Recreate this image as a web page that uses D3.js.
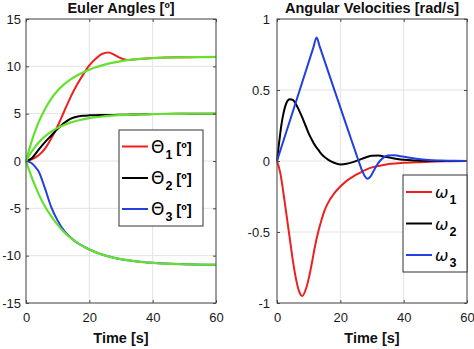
<!DOCTYPE html>
<html>
<head>
<meta charset="utf-8">
<script src="https://cdn.jsdelivr.net/npm/d3@7"></script>
<style>
  body { margin: 0; background: #fff; }
  svg { display: block; font-family: "Liberation Sans", Arial, sans-serif; }
</style>
</head>
<body>
<svg id="chart" width="474" height="349"></svg>
<script>
// ---- data ----
// left panel: Euler angles [deg]
const tEuler = [0, 1, 2, 3, 4, 6, 8, 10, 12, 14, 16, 18, 20, 22, 24, 26, 28, 30, 32, 34, 36, 38, 40, 44, 48, 52, 56, 60];
const theta1 = [0, 0.08, 0.2, 0.38, 0.6, 1.3, 2.4, 3.7, 5.2, 6.7, 8.0, 9.1, 10.1, 10.8, 11.3, 11.45, 11.2, 10.85, 10.66, 10.72, 10.78, 10.83, 10.87, 10.92, 10.95, 10.97, 10.98, 10.99];
const theta2 = [0, 0.12, 0.35, 0.75, 1.2, 2.0, 2.7, 3.4, 4.0, 4.45, 4.68, 4.78, 4.82, 4.84, 4.85, 4.86, 4.87, 4.88, 4.89, 4.91, 4.93, 4.94, 4.96, 4.97, 4.98, 4.99, 4.99, 5.0];
const theta3 = [0, -0.1, -0.3, -0.65, -1.1, -2.9, -4.9, -6.3, -7.35, -8.05, -8.6, -9.0, -9.35, -9.63, -9.88, -10.07, -10.24, -10.37, -10.48, -10.57, -10.65, -10.71, -10.76, -10.84, -10.89, -10.92, -10.95, -10.96];
// reference trajectories (green)
const ref1 = [0, 1.2, 2.3, 3.25, 4.1, 5.5, 6.6, 7.45, 8.1, 8.6, 9.0, 9.35, 9.65, 9.9, 10.1, 10.28, 10.42, 10.55, 10.65, 10.72, 10.78, 10.83, 10.87, 10.92, 10.95, 10.97, 10.98, 10.99];
const ref2 = [0, 0.6, 1.1, 1.55, 1.95, 2.6, 3.1, 3.5, 3.8, 4.05, 4.25, 4.4, 4.53, 4.62, 4.7, 4.77, 4.82, 4.85, 4.88, 4.91, 4.93, 4.94, 4.96, 4.97, 4.98, 4.99, 4.99, 5.0];
const ref3 = [0, -1.0, -1.9, -2.7, -3.5, -4.8, -5.85, -6.75, -7.5, -8.1, -8.6, -9.0, -9.35, -9.65, -9.88, -10.07, -10.24, -10.37, -10.48, -10.57, -10.65, -10.71, -10.76, -10.84, -10.89, -10.92, -10.95, -10.96];

// right panel: angular velocities [rad/s]
const tW1 = [0, 1, 2, 3, 4, 5, 6, 7, 8, 9, 10, 11, 12, 13, 14, 15, 16, 18, 20, 22, 24, 26, 28, 30, 32, 34, 36, 40, 45, 50, 55, 60];
const omega1 = [0, -0.08, -0.22, -0.38, -0.54, -0.7, -0.83, -0.92, -0.95, -0.91, -0.83, -0.72, -0.6, -0.5, -0.42, -0.35, -0.3, -0.23, -0.18, -0.14, -0.11, -0.085, -0.062, -0.045, -0.035, -0.027, -0.02, -0.013, -0.008, -0.004, -0.002, 0];
const tW2 = [0, 0.5, 1, 1.5, 2, 3, 4, 5, 6, 7, 8, 9, 10, 11, 12, 13, 14, 15, 16, 18, 20, 22, 24, 26, 28, 30, 32, 34, 36, 38, 40, 44, 48, 52, 60];
const omega2 = [0, 0.1, 0.19, 0.27, 0.33, 0.41, 0.435, 0.43, 0.4, 0.355, 0.305, 0.25, 0.195, 0.15, 0.11, 0.08, 0.05, 0.028, 0.012, -0.012, -0.024, -0.02, -0.008, 0.008, 0.025, 0.037, 0.038, 0.03, 0.022, 0.014, 0.008, 0.003, 0.001, 0, 0];
const tW3 = [0, 1, 11.5, 12.5, 13.5, 23, 24, 25, 26, 27, 28, 28.5, 29.5, 30.5, 31.5, 32.5, 33.5, 35, 37, 40, 44, 48, 52, 56, 60];
const omega3 = [0, 0.07, 0.8, 0.87, 0.805, 0.18, 0.115, 0.05, -0.015, -0.075, -0.115, -0.125, -0.11, -0.07, -0.03, 0.0, 0.022, 0.038, 0.04, 0.03, 0.016, 0.007, 0.003, 0.001, 0];

// tick values
const xTicks = [0, 20, 40, 60];
const eulerTicks = [-15, -10, -5, 0, 5, 10, 15];
const omegaTicks = [-1, -0.5, 0, 0.5, 1];

const RED = "#ee1f1f", BLACK = "#000000", BLUE = "#2240e0", GREEN = "#64e02e";
const AXIS = "#4a4a4a", GRID = "#e3e3e3";

const svg = d3.select("#chart");

function zip(t, v) { return t.map((d, i) => [d, v[i]]); }

// draws one MATLAB-like axes box
function drawPanel(p) {
    const x = d3.scaleLinear().domain([0, 60]).range([p.x0, p.x1]);
    const y = d3.scaleLinear().domain(p.yDomain).range([p.y1, p.y0]);
    const g = svg.append("g");

    // grid
    g.selectAll(".gx").data(xTicks).enter().append("line")
        .attr("x1", d => x(d)).attr("x2", d => x(d))
        .attr("y1", p.y0).attr("y2", p.y1)
        .attr("stroke", GRID).attr("stroke-width", 1);
    g.selectAll(".gy").data(p.yTicks).enter().append("line")
        .attr("x1", p.x0).attr("x2", p.x1)
        .attr("y1", d => y(d)).attr("y2", d => y(d))
        .attr("stroke", GRID).attr("stroke-width", 1);

    // lines
    const line = d3.line().x(d => x(d[0])).y(d => y(d[1])).curve(d3.curveMonotoneX);
    p.series.forEach(s => {
        g.append("path")
            .datum(zip(s.t, s.v))
            .attr("d", line)
            .attr("fill", "none")
            .attr("stroke", s.color)
            .attr("stroke-width", s.w || 2)
            .attr("stroke-linejoin", "round");
    });

    // axes (ticks pointing inward)
    const fontSize = "13px";
    const bottom = g.append("g").attr("transform", `translate(0,${p.y1})`)
        .call(d3.axisBottom(x).tickValues(xTicks).tickSize(-3).tickPadding(10));
    const left = g.append("g").attr("transform", `translate(${p.x0},0)`)
        .call(d3.axisLeft(y).tickValues(p.yTicks).tickSize(-3).tickPadding(p.yPad)
            .tickFormat(d => d));
    const top = g.append("g").attr("transform", `translate(0,${p.y0})`)
        .call(d3.axisTop(x).tickValues(xTicks).tickSize(-3).tickFormat(""));
    const right = g.append("g").attr("transform", `translate(${p.x1},0)`)
        .call(d3.axisRight(y).tickValues(p.yTicks).tickSize(-3).tickFormat(""));
    [bottom, left, top, right].forEach(a => {
        a.select(".domain").remove();
        a.selectAll("line").attr("stroke", AXIS);
        a.selectAll("text").attr("fill", "#1a1a1a").style("font-size", fontSize)
            .style("font-family", "'Liberation Sans', Arial, sans-serif");
    });

    // box
    g.append("rect")
        .attr("x", p.x0).attr("y", p.y0)
        .attr("width", p.x1 - p.x0).attr("height", p.y1 - p.y0)
        .attr("fill", "none").attr("stroke", AXIS).attr("stroke-width", 1);

    // title and x label
    g.append("text").attr("x", (p.x0 + p.x1) / 2).attr("y", 12.5)
        .attr("text-anchor", "middle").attr("font-weight", "bold")
        .attr("font-size", "14.5px").attr("fill", "#111").text(p.title);
    g.append("text").attr("x", (p.x0 + p.x1) / 2).attr("y", 343)
        .attr("text-anchor", "middle").attr("font-weight", "bold")
        .attr("font-size", "14.5px").attr("fill", "#111").text("Time [s]");

    // legend
    const L = p.legend;
    g.append("rect").attr("x", L.x).attr("y", L.y).attr("width", L.w).attr("height", L.h)
        .attr("fill", "#fff").attr("stroke", "#333").attr("stroke-width", 1);
    L.items.forEach((it, i) => {
        const ly = L.rows[i];
        g.append("line").attr("x1", L.x + 3).attr("x2", L.x + 29)
            .attr("y1", ly).attr("y2", ly)
            .attr("stroke", it.color).attr("stroke-width", 2);
        const txt = g.append("text").attr("x", L.x + 32).attr("y", ly + 6)
            .attr("fill", "#000");
        txt.append("tspan").text(it.sym)
            .attr("font-size", L.symSize).attr("font-style", L.italic ? "italic" : "normal")
            .attr("font-family", "'DejaVu Sans', sans-serif");
        txt.append("tspan").text(it.sub).attr("dy", 6).attr("dx", 1)
            .attr("font-size", "12.5px").attr("font-weight", "bold");
        if (it.unit) {
            txt.append("tspan").text(it.unit).attr("dy", -6).attr("dx", 4)
                .attr("font-size", "15px").attr("font-weight", "bold");
        }
    });
}

drawPanel({
    x0: 26, x1: 216, y0: 19, y1: 303,
    yDomain: [-15, 15], yTicks: eulerTicks, yPad: 5,
    title: "Euler Angles [º]",
    series: [
        { t: tEuler, v: theta1, color: RED },
        { t: tEuler, v: theta2, color: BLACK },
        { t: tEuler, v: theta3, color: BLUE },
        { t: tEuler, v: ref1, color: GREEN, w: 2.2 },
        { t: tEuler, v: ref2, color: GREEN, w: 2.2 },
        { t: tEuler, v: ref3, color: GREEN, w: 2.2 }
    ],
    legend: {
        x: 119, y: 130, w: 84, h: 96, rows: [146.5, 178, 209],
        symSize: "17px", italic: false,
        items: [
            { sym: "Θ", sub: "1", unit: "[º]", color: RED },
            { sym: "Θ", sub: "2", unit: "[º]", color: BLACK },
            { sym: "Θ", sub: "3", unit: "[º]", color: BLUE }
        ]
    }
});

drawPanel({
    x0: 277, x1: 467, y0: 19, y1: 303,
    yDomain: [-1, 1], yTicks: omegaTicks, yPad: 7,
    title: "Angular Velocities [rad/s]",
    series: [
        { t: tW1, v: omega1, color: RED },
        { t: tW2, v: omega2, color: BLACK },
        { t: tW3, v: omega3, color: BLUE }
    ],
    legend: {
        x: 403, y: 175, w: 64, h: 97, rows: [192, 223.5, 255],
        symSize: "16px", italic: true,
        items: [
            { sym: "ω", sub: "1", color: RED },
            { sym: "ω", sub: "2", color: BLACK },
            { sym: "ω", sub: "3", color: BLUE }
        ]
    }
});
</script>
</body>
</html>
